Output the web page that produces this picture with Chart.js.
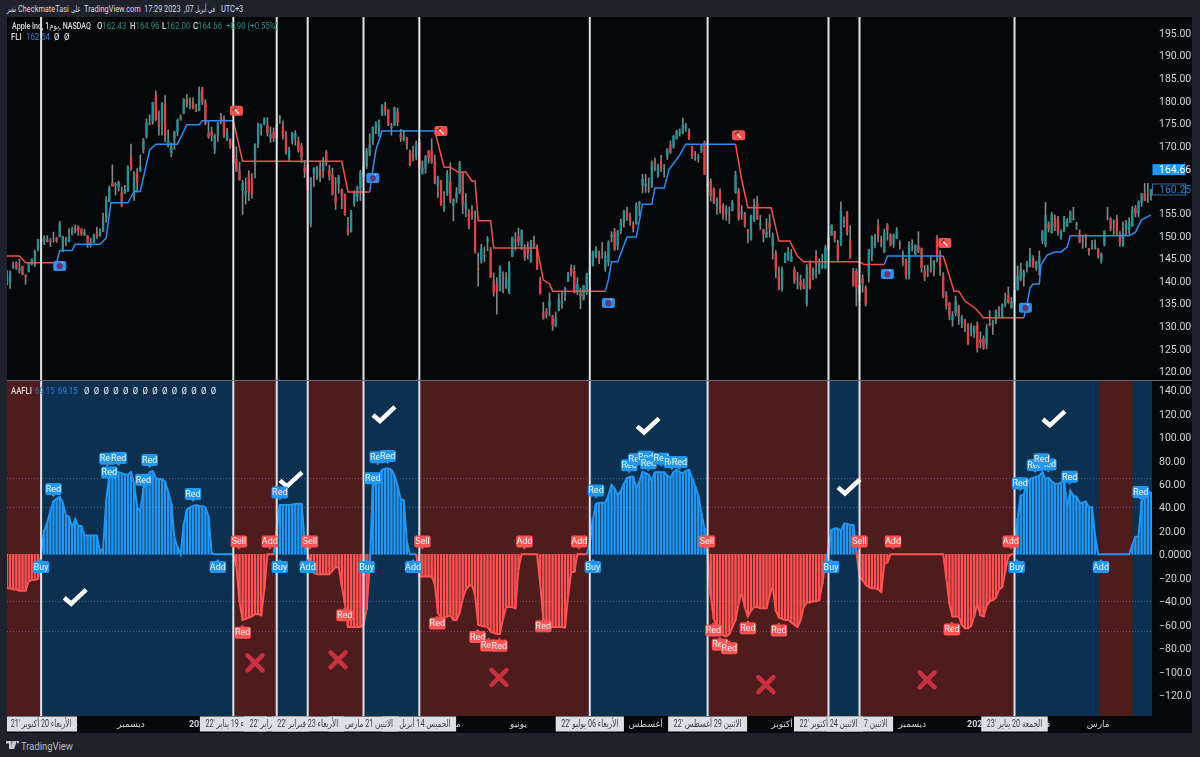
<!DOCTYPE html>
<html>
<head>
<meta charset="utf-8">
<script src="https://cdn.jsdelivr.net/npm/chart.js@4"></script>
<style>
  html, body { margin: 0; padding: 0; width: 1200px; height: 757px; overflow: hidden; background: #1e222d; }
  canvas { position: absolute; left: 7px; background: #060709; }
  #priceChart { top: 17px; }
  #oscChart { top: 381px; }
  .txt { position: absolute; white-space: nowrap; font: 500 9.5px Roboto, "DejaVu Sans", sans-serif; color: #d8dbe2; transform: scaleX(.82); transform-origin: left; }
  .txt b { font-weight: 400; }
  .top { top: 4px; font-size: 9px; font-weight: 400; }
  .ar { transform: scaleX(.6); }
  .teal { color: #1f8f83; }
  .blue { color: #2a86d8; }
  .dim { color: #2878b8; }
  #divider { position: absolute; left: 7px; top: 380px; width: 1185px; height: 1px; background: #6a6d78; }
</style>
</head>
<body>
<canvas id="priceChart" width="1185" height="363"></canvas>
<canvas id="oscChart" width="1185" height="352"></canvas>
<div id="divider"></div>

<div class="txt top ar" style="left:7px">نشر</div>
<div class="txt top" style="left:18px">CheckmateTasi</div>
<div class="txt top ar" style="left:71px">على</div>
<div class="txt top" style="left:84px">TradingView.com</div>
<div class="txt top" style="left:144px">17:29</div>
<div class="txt top" style="left:164px">2023</div>
<div class="txt top" style="left:184px">,07</div>
<div class="txt top ar" style="left:195px">في أبريل</div>
<div class="txt top" style="left:221px">UTC+3</div>

<div class="txt" style="left:12px;top:20px;transform:scaleX(.75)">Apple Inc, 1يوم, NASDAQ</div>
<div class="txt" style="left:97px;top:20px">O<b class="teal">162.43</b></div>
<div class="txt" style="left:130px;top:20px">H<b class="teal">164.96</b></div>
<div class="txt" style="left:162px;top:20px">L<b class="teal">162.00</b></div>
<div class="txt" style="left:193px;top:20px">C<b class="teal">164.66</b></div>
<div class="txt teal" style="left:226px;top:20px;font-weight:400">+0.90 (+0.55%)</div>
<div class="txt" style="left:11px;top:31px">FLI</div>
<div class="txt blue" style="left:26px;top:31px;font-weight:400">162.54</div>
<div class="txt" style="left:54px;top:31px">Ø</div>
<div class="txt" style="left:64px;top:31px">Ø</div>

<div class="txt" style="left:11px;top:385px">AAFLI</div>
<div class="txt dim" style="left:35px;top:385px;font-weight:400">69.15</div>
<div class="txt blue" style="left:58px;top:385px;font-weight:400">69.15</div>
<div class="txt" style="left:84px;top:385px;word-spacing:3px">Ø Ø Ø Ø Ø Ø Ø Ø Ø Ø Ø Ø Ø Ø</div>

<svg style="position:absolute;left:6px;top:741px" width="13" height="9" viewBox="0 0 13 9">
  <path d="M0 0h5.6v8H3V2.4H0zM6.4 0h2.4l2 0-2.7 8H5.4z M11 0h2v2.2h-2z" fill="#c6c9d0"/>
</svg>
<div class="txt" style="left:21px;top:739px;font-size:11.5px;font-weight:400;color:#b9bcc4">TradingView</div>

<script>
// daily candles, 5 Oct 2021 to 24 Mar 2023, one line per month
const opens = [
  139.5,139.5,143,144,142.3,143.2,141.2,142.1,143.8,143.4,147,148.7,148.8,149,148.7,149.3,149.4,149.8,147.2,
  148.7,148.7,150.4,151.6,151.9,151.4,150.2,150,148.4,148.4,150.4,149.9,151,153.7,157.6,161.7,161.1,160.7,159.5,159.4,159.9,
  167.5,158.7,164,164.3,169.1,172.1,174.9,175.2,181.1,175.2,175.1,179.3,169.9,168.3,171.6,173,175.9,177.1,180.2,179.3,179.5,178.1,
  177.8,182.6,179.6,172.7,172.9,169.1,172.3,176.1,175.8,171.3,171.5,170,167,164.4,160,159,163.5,162.5,165.7,170.2,
  174,174.8,174.5,171.7,172.9,171.7,176.1,174.1,172.3,167.4,171,171.9,171,169.8,165,165.5,152.6,163.8,163.1,
  164.7,164.4,168.5,164.5,163.4,158.8,161.5,160.2,158.9,151.5,150.9,157,158.6,160.5,163.5,165.5,168,171.1,173.9,172.2,176.7,178.6,177.8,
  174,174.6,177.5,172.4,171.2,171.8,168.7,168,167.4,170.6,163.9,165,168.8,168.9,166.5,161.1,162.3,155.9,159.3,161.8,
  156.7,158.2,159.7,163.9,156,154.9,155.5,153.5,142.8,144.6,145.6,148.9,146.9,139.9,139.1,137.8,140.8,138.4,137.4,145.4,149.1,
  149.9,147.8,146.9,147,144.3,148.6,147.1,140.3,132.9,133.1,134.3,132.1,130.1,133.4,134.8,136.8,139.9,142.7,142.1,137.5,137.3,
  136,137.8,141.4,143.3,145.3,145.7,145.8,143,144.1,149.8,150.7,147.9,151.1,152.9,155.3,154,152.3,152.6,157,161.2,
  161,160.1,160.8,166.4,163.2,166.4,164.8,167.7,170.1,169.8,171.5,172.8,172.8,173.8,173,169.7,167.1,167.3,168.8,170.6,161.1,162.1,160.3,
  156.6,159.8,156.5,154.8,154.6,155.5,159.6,159.9,154.8,154.7,151.2,149.3,153.4,157.3,152.4,151.2,149.7,152.7,147.6,146.1,141.3,
  138.2,144.1,145,144.3,142.5,140.4,139.9,139.1,135,144.3,141.1,145.5,141.7,143,142.9,147.2,150.1,151,148.1,148.2,153.2,
  155.1,148.9,142.1,142.1,137.1,140.4,138.5,141.2,145.8,148,152.2,149.1,146.4,152.3,150.2,148.1,149.5,148.2,145.1,144.3,141.4,
  148.2,146,147.8,147.1,142.2,142.4,142.3,142.7,149.5,145.4,141.1,136.7,135.1,131.4,133,134.4,130.9,131.4,130,128.4,128.4,
  130.3,126.9,127.1,126,130.5,130.3,131.2,133.9,132,134.8,136.8,134.1,135.3,138.1,140.3,140.9,143.2,143.2,145,142.7,
  144,148.9,148,152.6,150.6,153.9,153.8,149.5,151,152.1,153.1,153.5,152.4,150.2,148.9,150.1,147.1,147.7,147.1,
  146.8,144.4,148,153.8,153.7,152.8,153.6,150.2,147.8,151.3,151.2,152.2,156.1,155.1,157.3,159.3,158.9,158.9
];
const highs = [
  142.2,142.2,144.2,144.2,144.8,143.3,141.4,144,144.9,146.8,149.2,149.8,150,150,149.4,150.8,149.7,153.2,149.9,
  149.7,151.6,151.9,152.4,152.2,151.6,151.4,150.1,149.4,150.4,151.9,151.5,155,158.7,161,165.7,161.8,162.1,160.8,161.2,165.5,
  170.3,164.2,164.9,167.9,171.6,175.9,176.8,179.6,182.1,177.7,179.5,181.1,173.5,170.6,173.2,175.9,176.8,180.4,181.3,180.6,180.6,179.2,
  183,182.9,180.2,175.3,174.1,172.5,175.2,177.2,176.6,173.8,171.1,171.1,169.7,166.3,162.3,162.8,164.4,163.8,170.4,175,
  174.8,176.2,176.2,174.1,173.9,175.3,176.7,175.5,173.1,169.6,172.9,173.3,171.9,170.5,166.7,166.1,162.9,165.1,165.4,
  166.6,167.4,168.9,165.6,165,162.9,163.4,160.4,159.3,154.1,155.6,160,161,164.5,166.4,169.4,172.6,174.1,175.3,175.7,179,179.6,178,
  174.9,178.5,178.3,173.6,173.4,171.8,169,169.9,171,171.3,166.6,167.8,168.9,171.5,167.9,163.2,162.3,159.8,164.5,166.2,
  158.2,160.7,166.5,164.1,159.4,155.8,156.7,155.5,146.2,148.1,147.5,149.8,147.4,141.7,140.7,143.3,142,141.8,144.3,149.7,150.7,
  151.7,151.3,148,148.6,149,149.9,148,140.8,135.2,133.9,137.3,132.4,133.1,137.1,137.8,138.6,141.9,143.5,143.4,140.7,138.4,
  139,141.6,144.1,146.6,147.6,146.6,148.5,146.5,148.9,150.9,151.6,151.2,153.7,155.6,156.3,155,153.1,157.3,157.6,163.6,
  163.6,162.8,166.6,167.2,165.9,167.8,165.8,169.3,171,172.2,173.4,173.7,176.1,174.9,173.7,169.9,168.7,168.1,170.1,171,162.9,162.6,160.6,
  158.4,160.4,157.1,156.7,156.4,157.8,164.3,160.5,156.7,155.2,151.4,154.6,158.1,158.7,154.5,151.5,153.8,154.7,150.6,146.7,143.1,
  143.1,146.2,147.4,147,143.1,141.9,141.3,140.4,143.6,144.5,142.9,146.7,144.9,145.9,147.9,150.2,152.5,151,149,157.5,154.2,
  155.4,152.2,142.8,142.7,139.1,141.4,138.9,146.9,150,150.3,153.6,149.9,151.5,152.7,150.4,150.4,151.8,148.9,146.6,144.8,148.7,
  149.1,148,150.9,147.3,143.4,143.5,145.6,144.5,150,146.7,141.8,137.6,135.2,133.2,136.6,134.6,132.4,131.4,130.5,130.5,130,
  130.9,128.7,127.8,130.3,133.4,131.3,133.5,134.3,134.9,137.3,138.6,136.3,138,143.3,143.9,142.4,144.3,147.2,145.6,144.3,
  146.6,151.2,157.4,153.1,155.2,154.6,154.3,151.3,154.3,153.8,155.5,156.3,153,151.3,149.9,150.3,147.2,149,149.1,
  147.2,146.2,151.1,156.3,154,153.5,154.5,150.9,153.1,153.4,154,156.5,156.7,157.8,159.4,161.6,161.6,160.3
];
const lows = [
  139.1,138.3,142.7,142.5,141.7,141.3,139.2,141.9,143.5,143.2,146.6,148.1,148,148.6,147.6,148.6,148.5,149.7,146.4,
  147.8,148.6,150.1,150.6,150.1,150.1,150,147.4,147.5,148.6,149.4,149.9,150.9,153,157.6,161,159,159.9,156.4,159.3,159.8,
  164.5,157.8,159.7,164.3,168.3,171.6,174.7,174.7,175.5,172.3,172.3,170.8,169.7,167.5,169.1,172.2,175.6,177.1,178.5,178.1,178.1,177.5,
  177.7,179.1,174.6,171.6,171,168.2,170.9,174.8,171.8,171.1,169.4,166,164.2,162.3,154.7,157,157.8,158.3,162.8,169.5,
  172.3,174.6,172.1,170.7,170.9,171.4,174.9,171.4,168,166.6,170.3,170.1,168.5,166.2,162.9,160,152,160.9,162.4,
  161.9,162.9,165.5,162.3,159,155.8,159.4,156,154.5,150.1,150.8,156.5,157.6,157.8,163,164.9,167.7,170.2,172.6,172,176.7,176.7,174.4,
  172.3,174.4,174.4,170.9,171,169.2,165.5,166.6,166.8,165,163.6,163.8,166.1,166,161.5,158.5,156.7,155.4,158.9,157.3,
  153.3,157.3,159.3,154.9,154.2,151.5,153.6,146.1,138.8,143.9,144.2,146.7,140.7,136.6,132.6,137.7,137.3,138.3,137.1,145.3,146.8,
  147.7,146.9,144.5,144.8,144.1,147.5,142.5,137.1,131.5,131.7,132.2,129,129.8,133.3,133.9,135.6,139.8,141,137.3,136.9,133.8,
  135.7,136.9,141,143.3,145.1,143.8,145,142.1,143.3,148.6,146.7,146.9,150.4,151.9,153.4,152.3,150.8,152.5,154.4,159.5,
  159.6,159.6,160.7,164.4,163,164.2,163,166.9,168.2,169.4,171.4,172.1,172.6,173.1,171.3,167.1,166.7,166.3,168.4,163.6,159.8,157.7,157.1,
  154.7,155,153.6,153.4,152.7,155.5,159.4,153.4,153.6,151.9,148.4,149,153.1,153.6,151.4,148.6,149.6,149.7,144.8,140.7,138,
  137.7,144,144.4,144.3,139.4,138.2,138,138.2,134.4,138.2,140.3,140.6,141.5,142.7,142.6,146.9,150.1,148.6,144.1,147.8,151.9,
  150.1,145,138.8,134.4,135.6,137.5,134.4,139.7,144.4,147.3,148.6,147.5,146.2,149,147.7,147.4,149.3,147.1,143.4,140.4,140.4,
  146.6,145.7,146.2,141.9,140,140.9,141.9,141.1,144.2,141.2,136.2,133.7,131.3,129.9,132.2,130.3,129.6,128.7,125.9,127.7,127.4,
  124.2,125.1,124.8,124.9,130,128.1,130.5,131.7,131.7,134.2,135,133.9,134.8,137.9,140,138.8,141.9,143.1,143,142.3,
  141.3,148.2,147.5,150.8,150.6,151.1,150.1,149.2,150.9,152,152.9,153.5,151.4,148.4,147.2,147.4,145.7,147,147,
  145,143.9,147.7,153.5,151.1,150.2,150.2,147.6,147.6,150.1,150.3,152,154.2,154.2,156.5,157.8,157.4,157.9
];
const closes = [
  141.1,142,143.3,142.9,142.8,141.5,140.9,143.8,144.8,146.6,148.8,149.3,149.5,148.7,148.6,149.3,148.9,152.6,149.8,
  149,150,151.5,151,151.3,150.4,150.8,147.9,147.9,150,150,151,153.5,157.9,160.6,161,161.4,161.9,156.8,160.2,165.3,
  164.8,163.8,161.8,165.3,171.2,175.1,174.6,179.5,175.7,174.3,179.3,172.3,171.1,169.8,173,175.6,176.3,180.3,179.3,179.4,178.2,177.6,
  182,179.7,174.9,172,172.2,172.2,175.1,175.5,172.2,173.1,169.8,166.2,164.5,162.4,161.6,159.8,159.7,159.2,170.3,174.8,
  174.6,175.8,172.9,172.4,171.7,174.8,176.3,172.1,168.6,168.9,172.8,172.6,168.9,167.3,164.3,160.1,162.7,164.9,165.1,
  163.2,166.6,166.2,163.2,159.3,157.4,163,158.5,154.7,150.6,155.1,159.6,160.6,164,165.4,168.8,170.2,174.1,174.7,175.6,179,177.8,174.6,
  174.3,178.4,175.1,171.8,172.1,170.1,165.8,167.7,170.4,165.3,165.1,167.4,167.2,166.4,161.8,162.9,156.8,156.6,163.6,157.7,
  158,159.5,166,156.8,157.3,152.1,154.5,146.5,142.6,147.1,145.5,149.2,140.8,137.4,137.6,143.1,140.4,140.5,143.8,149.6,148.8,
  148.7,151.2,145.4,146.1,148.7,148,142.6,137.1,131.9,132.8,135.4,130.1,131.6,135.9,135.4,138.3,141.7,141.7,137.4,139.2,136.7,
  138.9,141.6,142.9,146.4,147,144.9,145.9,145.5,148.5,150.2,147.1,151,153,155.4,154.1,153,151.6,156.8,157.4,162.5,
  161.5,160,166.1,165.8,165.4,164.9,164.9,169.2,168.5,172.1,173.2,173,174.6,174.2,171.5,167.6,167.2,167.5,170,163.6,161.4,158.9,157.2,
  158,155.8,154.5,156,154.5,157.4,163.4,153.8,155.3,152.4,150.7,154.5,156.9,153.7,152.7,150.4,150.8,151.8,149.8,142.5,138.2,
  142.5,146.1,146.4,145.4,140.1,140.4,139,138.3,143,138.4,142.4,143.8,143.9,143.4,147.3,149.5,152.3,149.4,144.8,155.7,153.3,
  150.7,145,138.9,138.4,138.9,139.5,134.9,146.9,149.7,148.3,150,148.8,150.7,151.3,148,150.2,151.1,148.1,144.2,141.2,148,
  148.3,147.8,146.6,142.9,140.9,142.7,142.2,144.5,145.5,143.2,136.5,134.5,132.4,132.3,135.5,132.2,131.9,130,126,129.6,129.9,
  125.1,126.4,125,129.6,130.2,130.7,133.5,133.4,134.8,135.9,135.2,135.3,137.9,141.1,142.5,141.9,144,145.9,143,144.3,
  145.4,150.8,154.5,151.7,154.7,151.9,150.9,151,153.9,153.2,155.3,153.7,152.6,148.5,148.9,149.4,146.7,147.9,147.4,
  145.3,145.9,151,153.8,151.6,152.9,150.6,148.5,150.5,152.6,153,155.9,155,157.4,159.3,157.8,158.9,160.3
];

// FLI step line, vertices. a null value breaks the line
const fliRedBars = [0,4,6,16,16, 73,76,108,110,117,117, 138,141,143,145.5,148,150,151,152,156,157,171,173,175,176,193,193,
  235,237,239,246.5,249,252.5,255,257,275,276.5,283,283, 302,305.5,307,309,312.5,315,328];
const fliRedVals = [145.5,145.5,144,144,null, 175.5,166.5,166.5,159.7,159.7,null, 173.2,165.2,165.2,164.1,164.1,162.1,162.1,153.3,153.3,147.3,147.3,140.2,139.3,137.7,137.7,null,
  170.3,162.4,156.2,156.2,148.8,148.8,145.5,144.2,144.2,143.6,143.6,null, 145.5,137.7,137.7,135.5,133.8,131.8,131.8];
const fliBlueBars = [16,17,21,22,30,32,33.5,39,41,43,46,48,55,58,62,63,73,73, 117,118,119,121,138,138,
  193,194,195,197,200,203,205,208,209,212,213.5,217,219,235,235, 283,284,302,302,
  328,329,330,331,333,333.5,335.5,338,340,342,343,362,364,366,369];
const fliBlueVals = [144,146.7,146.7,148.1,148.1,149.5,157.3,157.3,159.8,159.8,169,170.3,170.3,174.6,174.6,175.5,175.5,null, 159.7,164.6,169,173.2,173.2,null,
  137.7,140.2,144.2,144.2,149.7,149.7,157,157,160.6,160.6,164.6,167.9,170.3,170.3,null, 143.6,145.5,145.5,null,
  131.8,134.6,138.4,139.3,139.3,143.5,145.7,146.4,146.4,147.5,150,150,150.8,153.5,154.6];

const hammerBars = [74,140,236,302.5];
const hammerVals = [177.7,173.2,172.3,148.4];
const bombBars = [17,118,194,284,328.5];
const bombVals = [143.3,162.8,135.1,141.5,134];

const lastPrice = 164.66;
const fliPrice = 160.25;
const hiddenPriceTicks = [165,160];

// AAFLI oscillator, ten values per line
const oscValues = [
  -29,-29,-30,-30,-31,-31,-31,-23,-22,-22,
  -21,0,20,27,37,45,47,49,44,33,
  32,23,30,24,24,16,16,16,16,16,
  2,5,45,68,72,71,70,69,68,68,
  70,60,40,36,56,60,70,71,65,64,
  64,62,53,43,14,6,0,25,38,40,
  41,42,41,41,40,32,1,0,0,0,
  0,0,0,0,-10,-40,-56,-55,-54,-53,
  -51,-51,-52,-30,0,0,0,20,42,42,
  42,42,42.5,43,43,43,12,0,-10,-16,
  -17,-17,-17,-17,-17,-14,-11,-11,-27,-42,
  -62,-62,-62,-62,-62,-60,-47,-10,58,62,
  68,72,73,73,72,67,58,47,46,10,
  0,0,0,-19,-19,-19,-19,-19,-25,-50,
  -54,-54,-53,-52,-56,-56,-50,-38,-30,-27,
  -26,-35,-60,-61,-61.5,-62,-66,-67,-68,-68,
  -55,-45,-45,-45,-46,-12,0,0,0,0,
  0,0,-25,-55,-61,-62,-62,-62,-62,-62,
  -62.5,-35,-15,-15,0,0,0,0,10,30,
  43,44,44,44,50,59,56,50,54,60,
  65,66,66,56,62,70,69,68,62,70,
  70,70,70,67,65,70,72,70,69,71,
  72,65,58,50,35,22,0,-35,-55,-62,
  -68,-69,-70,-68,-62,-56,-42,-32,-45,-53,
  -48,-45,-45,-46,-46,-46,-35,-27,-48,-54,
  -55,-56,-56,-58,-60,-62,-56,-45,-41,-41,
  -40,-40,-39,-25,-8,5,21,22,22,20,
  26,26,25,25,3,-19,-22,-26,-28,-29,
  -29,-30,-32,-8,-7,0,0,0,0,0,
  0,0,0,0,0,0,0,0,0,0,
  0,0,0,-20,-42,-53,-53,-53,-60,-63,
  -63,-61,-53,-42,-52,-53,-44,-40,-39,-37,
  -30,-28,-15,-2,0,0,30,50,51,60,
  64,65,66,67,70,64,65,62,60,60,
  61,63,40,54,50,49,44,44,45,40,
  40,15,0,0,0,0,0,0,0,0,
  0,0,0,8,15,15,45,50,52,53
];

const oscLevels = [65,40,-40,-65];

// regime bands of the lower panel: bar where each starts
const bandStarts = [0,11,73,87,97,115,133,188,226,265,275,325,352.3,363.2];
const bandSides = ["red","blue","red","blue","red","blue","red","blue","red","blue","red","blue","red","blue"];

// white signal lines and the date flags under them (later ones are painted on top)
const signalBars = [11,73,87,97,115,133,188,226,265,275,325];
const flagBars = [11,73,87,133,115,97,188,226,275,265,325];
const flagTexts = [
  "الأربعاء 20 أكتوبر '21","الأربعاء 19 يناير '22","الثلاثاء 8 فبراير '22","الخميس 14 أبريل '22","الاثنين 21 مارس '22",
  "الأربعاء 23 فبراير '22","الأربعاء 06 يوليو '22","الاثنين 29 أغسطس '22","الاثنين 7 نوفمبر '22","الاثنين 24 أكتوبر '22","الجمعة 20 يناير '23"
];

const monthBars = [19,40,62,82,101,124,144,165,186,206,229,250,271,292,313,333,352];
const monthTexts = ["نوفمبر","ديسمبر","2022","فبراير","مارس","أبريل","مايو","يونيو","يوليو","أغسطس","سبتمبر","أكتوبر","نوفمبر","ديسمبر","2023","فبراير","مارس"];

// tags on the oscillator
const blueTagBars = [11,15,32.4,36,33,44,46,60,68,88,88,97,116,118,119.6,122.8,131,189,190,200.7,203,206,206.9,211,214.5,216.9,265.8,325.7,326.8,331.6,335.9,333.8,342.8,352.9,365.7];
const blueTagVals = [-10.8,55.7,81.5,82,69.6,63.4,80.4,51.4,-10.8,52.6,-10.8,-10.8,-10.8,64.8,82.7,83.8,-10.8,-10.8,54.3,75.9,81,83,77.6,81.5,78.7,78.7,-10.8,-10.8,60.5,76,76.4,81,66,-10.8,53];
const blueTagTexts = ["Buy","Red","Red","Red","Red","Red","Red","Red","Add","Red","Buy","Add","Buy","Red","Red","Red","Add","Buy","Red","Red","Red","Red","Red","Red","Red","Red","Buy","Buy","Red","Red","Red","Red","Red","Add","Red"];
const redTagBars = [74.8,84.8,97.7,76,108.9,134,166.9,184.6,225.8,138.8,151.8,155.3,158.8,173,227.9,230,233,239,249,275,285.8,304.8,323.8];
const redTagVals = [10.8,10.8,10.8,-66.8,-52,10.8,10.8,10.8,10.8,-59,-70.5,-77.8,-78,-61.4,-65,-77,-80,-63,-65,10.8,10.8,-64,10.8];
const redTagTexts = ["Sell","Add","Sell","Red","Red","Sell","Add","Add","Sell","Red","Red","Red","Red","Red","Red","Red","Red","Red","Red","Sell","Add","Red","Add"];

const checkBars = [22,91.6,121.6,206.8,271.6,337.7];
const checkVals = [-37,63,118.7,109,57,115];
const crossBars = [80,106.8,158.7,244.8,296.8];
const crossVals = [-92.6,-90,-105,-111,-107];

const barCount = 369.35;
const UP = "#2a9094", DOWN = "#d8444a", WICK = "#7c8885";
const BLUE = "#2196f3", RED = "#ff5252";
const bandColors = { red: "#4f1c1e", blue: "#0c3050" };
const axisFont = "Roboto, 'DejaVu Sans', sans-serif";

function tickText(v) {
  if (v === 0) return "0.0000";
  return (v < 0 ? "\u2212" : "") + Math.abs(v).toFixed(2);
}

function rightAxis(min, max, step, hidden) {
  return {
    position: "right", min: min, max: max,
    border: { display: false },
    grid: { display: false, drawTicks: false },
    ticks: { stepSize: step, includeBounds: false, padding: 7, labelOffset: 1.5, color: "#d1d4dc", font: { family: axisFont, size: 10.5 }, callback: tickText },
    afterBuildTicks: s => { s.ticks = s.ticks.filter(t => t.value >= min && t.value <= max && !hidden.includes(t.value)); },
    afterFit: s => { s.width = 40; s.paddingTop = 0; s.paddingBottom = 0; }
  };
}

function zipPoints(xs, ys) {
  return xs.map((x, i) => ({ x: x, y: ys[i] }));
}

function drawSignals(chart) {
  const ctx = chart.ctx, a = chart.chartArea, x = chart.scales.x;
  ctx.save();
  ctx.strokeStyle = "#dfe1e8";
  ctx.lineWidth = 2;
  signalBars.forEach(b => {
    ctx.beginPath();
    ctx.moveTo(x.getPixelForValue(b), a.top);
    ctx.lineTo(x.getPixelForValue(b), a.bottom);
    ctx.stroke();
  });
  ctx.restore();
}

function roundBox(ctx, l, t, w, h, r) {
  ctx.beginPath();
  ctx.roundRect(l, t, w, h, r);
  ctx.fill();
}

function drawTag(ctx, px, py, text, color, pointUp) {
  const w = 16.5, h = 12;
  ctx.fillStyle = color;
  roundBox(ctx, px - w / 2, py - h / 2, w, h, 2);
  ctx.beginPath();
  if (pointUp) {
    ctx.moveTo(px - 2, py - h / 2); ctx.lineTo(px, py - h / 2 - 2); ctx.lineTo(px + 2, py - h / 2);
  } else {
    ctx.moveTo(px - 2, py + h / 2); ctx.lineTo(px, py + h / 2 + 2); ctx.lineTo(px + 2, py + h / 2);
  }
  ctx.fill();
  ctx.fillStyle = "#f4f6fa";
  ctx.font = "9px " + axisFont;
  ctx.textAlign = "center";
  ctx.textBaseline = "middle";
  ctx.fillText(text, px, py + 0.5);
}

const pricePanel = {
  id: "pricePanel",
  afterDatasetsDraw(chart) {
    const ctx = chart.ctx, x = chart.scales.x, y = chart.scales.y;
    drawSignals(chart);
    ctx.save();
    hammerBars.forEach((b, i) => {
      const px = x.getPixelForValue(b), py = y.getPixelForValue(hammerVals[i]);
      ctx.fillStyle = "#f4514f";
      roundBox(ctx, px - 6.5, py - 5, 13, 10, 2);
      ctx.strokeStyle = "#e9e6e6"; ctx.lineWidth = 1.3;
      ctx.beginPath(); ctx.moveTo(px - 2.5, py - 2.5); ctx.lineTo(px + 2.5, py + 3); ctx.stroke();
      ctx.strokeStyle = "#5a3a3a"; ctx.lineWidth = 1.5;
      ctx.beginPath(); ctx.moveTo(px - 3.5, py - 0.5); ctx.lineTo(px - 0.5, py - 3.5); ctx.stroke();
    });
    bombBars.forEach((b, i) => {
      const px = x.getPixelForValue(b), py = y.getPixelForValue(bombVals[i]);
      ctx.fillStyle = "#2f8fec";
      roundBox(ctx, px - 6.5, py - 5, 13, 10, 2);
      ctx.fillStyle = "#5c3a78";
      ctx.beginPath(); ctx.arc(px, py + 0.3, 3.1, 0, Math.PI * 2); ctx.fill();
      ctx.fillStyle = "#e8d9c8";
      ctx.fillRect(px + 2, py - 4, 1.2, 1.2);
    });
    // price flags on the axis
    const left = chart.chartArea.right + 0.5;
    let py = y.getPixelForValue(lastPrice);
    ctx.fillStyle = "#2196f3";
    ctx.fillRect(left, py - 5.5, 33, 11);
    ctx.fillStyle = "#ffffff";
    ctx.font = "10.5px " + axisFont;
    ctx.textAlign = "left";
    ctx.textBaseline = "middle";
    ctx.fillText(lastPrice.toFixed(2), left + 6.5, py + 0.5);
    py = y.getPixelForValue(fliPrice);
    ctx.strokeStyle = "#2a6ea8"; ctx.lineWidth = 1;
    ctx.strokeRect(left, py - 5.5, 33, 11);
    ctx.fillStyle = "#2a7fc4";
    ctx.fillText(fliPrice.toFixed(2), left + 6.5, py + 0.5);
    ctx.restore();
  }
};

const oscPanel = {
  id: "oscPanel",
  beforeDatasetsDraw(chart) {
    const ctx = chart.ctx, a = chart.chartArea, x = chart.scales.x, y = chart.scales.y;
    ctx.save();
    bandStarts.forEach((b, i) => {
      const l = x.getPixelForValue(b);
      const r = i + 1 < bandStarts.length ? x.getPixelForValue(bandStarts[i + 1]) : a.right;
      ctx.fillStyle = bandColors[bandSides[i]];
      ctx.fillRect(l, a.top, r - l, a.bottom - a.top);
    });
    ctx.strokeStyle = "rgba(140,130,190,0.55)";
    ctx.lineWidth = 1;
    ctx.setLineDash([1, 2]);
    oscLevels.forEach(v => {
      const py = Math.round(y.getPixelForValue(v)) + 0.5;
      ctx.beginPath(); ctx.moveTo(a.left, py); ctx.lineTo(a.right, py); ctx.stroke();
    });
    ctx.restore();
  },
  afterDatasetsDraw(chart) {
    const ctx = chart.ctx, x = chart.scales.x, y = chart.scales.y;
    drawSignals(chart);
    ctx.save();
    crossBars.forEach((b, i) => {
      const px = x.getPixelForValue(b), py = y.getPixelForValue(crossVals[i]);
      ctx.lineCap = "round";
      ctx.strokeStyle = "#c8313f"; ctx.lineWidth = 4.5;
      ctx.beginPath();
      ctx.moveTo(px - 7.5, py - 7.5); ctx.lineTo(px + 7.5, py + 7.5);
      ctx.moveTo(px + 7.5, py - 7.5); ctx.lineTo(px - 7.5, py + 7.5);
      ctx.stroke();
    });
    checkBars.forEach((b, i) => {
      const px = x.getPixelForValue(b), py = y.getPixelForValue(checkVals[i]);
      ctx.lineCap = "butt";
      ctx.strokeStyle = "#ffffff"; ctx.lineWidth = 4.5;
      ctx.beginPath();
      ctx.moveTo(px - 11, py); ctx.lineTo(px - 4, py + 6); ctx.lineTo(px + 11, py - 8);
      ctx.stroke();
    });
    blueTagBars.forEach((b, i) => {
      drawTag(ctx, x.getPixelForValue(b), y.getPixelForValue(blueTagVals[i]), blueTagTexts[i], BLUE, blueTagVals[i] < 0);
    });
    redTagBars.forEach((b, i) => {
      drawTag(ctx, x.getPixelForValue(b), y.getPixelForValue(redTagVals[i]), redTagTexts[i], RED, redTagVals[i] < 0);
    });
    ctx.restore();
  },
  afterDraw(chart) {
    const ctx = chart.ctx, a = chart.chartArea, x = chart.scales.x;
    const squeeze = 0.72;
    ctx.save();
    ctx.font = "10px " + axisFont;
    ctx.direction = "rtl";
    ctx.textAlign = "center";
    ctx.textBaseline = "middle";
    flagBars.forEach((b, i) => {
      const px = x.getPixelForValue(b), w = ctx.measureText(flagTexts[i]).width * squeeze + 11;
      ctx.fillStyle = "#dcdfe6";
      ctx.fillRect(px - w / 2, a.bottom + 0.5, w, 15);
      ctx.fillStyle = "#3a3d46";
      ctx.save();
      ctx.translate(px, a.bottom + 8.5);
      ctx.scale(squeeze, 1);
      ctx.fillText(flagTexts[i], 0, 0);
      ctx.restore();
    });
    ctx.restore();
  }
};

function drawCharts() {
  const candleColors = closes.map((c, i) => (c >= opens[i] ? UP : DOWN));
  const bars = closes.map((c, i) => i);

  new Chart(document.getElementById("priceChart"), {
    type: "bar",
    data: {
      datasets: [
        { data: bars.map(i => ({ x: i, y: [lows[i], highs[i]] })), backgroundColor: WICK, barThickness: 1, grouped: false, order: 3 },
        { data: bars.map(i => ({ x: i, y: [opens[i], closes[i]] })), backgroundColor: candleColors, barThickness: 1.7, grouped: false, order: 2 },
        { type: "line", data: zipPoints(fliRedBars, fliRedVals), borderColor: "#f0504f", borderWidth: 1.5, pointRadius: 0, tension: 0, order: 1 },
        { type: "line", data: zipPoints(fliBlueBars, fliBlueVals), borderColor: "#2a8df0", borderWidth: 1.5, pointRadius: 0, tension: 0, order: 1 }
      ]
    },
    options: {
      responsive: false, animation: false, devicePixelRatio: 1,
      layout: { padding: 0, autoPadding: false },
      plugins: { legend: { display: false }, tooltip: { enabled: false } },
      scales: {
        x: { type: "linear", offset: false, min: 0, max: barCount, display: false },
        y: rightAxis(118, 198.5, 5, hiddenPriceTicks)
      }
    },
    plugins: [pricePanel]
  });

  // a flat stretch at zero keeps the colour of the run before it
  let side = "red";
  const oscSides = oscValues.map(v => {
    if (v > 0) side = "blue";
    if (v < 0) side = "red";
    return side;
  });

  new Chart(document.getElementById("oscChart"), {
    type: "bar",
    data: {
      datasets: [
        { data: oscValues.map((v, i) => ({ x: i, y: v })), backgroundColor: oscSides.map(s => (s === "blue" ? BLUE : RED)), barThickness: 1.7, grouped: false, order: 2 },
        {
          type: "line", data: oscValues.map((v, i) => ({ x: i, y: v })), borderWidth: 2, pointRadius: 0, tension: 0, order: 1,
          borderColor: BLUE,
          segment: { borderColor: c => (oscSides[c.p1DataIndex] === "blue" ? BLUE : RED) }
        }
      ]
    },
    options: {
      responsive: false, animation: false, devicePixelRatio: 1,
      layout: { padding: 0, autoPadding: false },
      plugins: { legend: { display: false }, tooltip: { enabled: false } },
      scales: {
        x: {
          type: "linear", offset: false, min: 0, max: barCount,
          border: { display: false },
          grid: { display: false, drawTicks: false },
          afterBuildTicks: s => { s.ticks = monthBars.map(b => ({ value: b })); },
          afterFit: s => { s.height = 17; s.paddingLeft = 0; s.paddingRight = 0; },
          ticks: {
            autoSkip: false, maxRotation: 0, padding: 3, color: "#d1d4dc",
            font: c => ({ family: axisFont, size: 9, weight: c.tick && (c.tick.value === 62 || c.tick.value === 313) ? "bold" : "normal" }),
            callback: v => monthTexts[monthBars.indexOf(v)]
          }
        },
        y: rightAxis(-137.8, 147.65, 20, [])
      }
    },
    plugins: [oscPanel]
  });
}

drawCharts();
</script>
</body>
</html>
